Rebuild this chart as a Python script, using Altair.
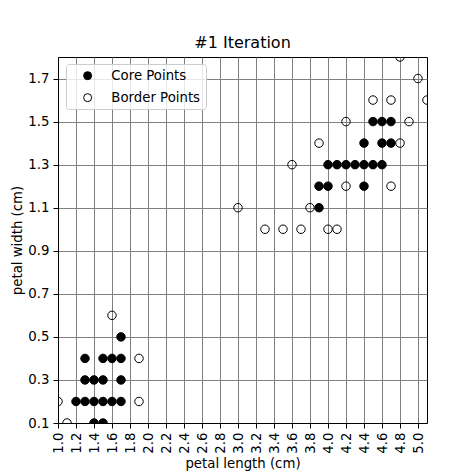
import altair as alt
import pandas as pd

core_x = [1.2, 1.3, 1.4, 1.5, 1.6, 1.7,
          1.3, 1.4, 1.5, 1.7,
          1.3, 1.5, 1.6, 1.7,
          1.7,
          1.4, 1.5,
          3.9,
          3.9, 4.0, 4.4,
          4.0, 4.1, 4.2, 4.3, 4.4, 4.5, 4.6,
          4.4, 4.6, 4.7,
          4.5, 4.6, 4.7]
core_y = [0.2, 0.2, 0.2, 0.2, 0.2, 0.2,
          0.3, 0.3, 0.3, 0.3,
          0.4, 0.4, 0.4, 0.4,
          0.5,
          0.1, 0.1,
          1.1,
          1.2, 1.2, 1.2,
          1.3, 1.3, 1.3, 1.3, 1.3, 1.3, 1.3,
          1.4, 1.4, 1.4,
          1.5, 1.5, 1.5]

border_x = [1.0, 1.9, 1.9, 1.6, 1.1,
            3.0, 3.8,
            3.3, 3.5, 3.7, 4.0, 4.1,
            4.2, 4.7,
            3.6,
            3.9, 4.8,
            4.2, 4.9,
            4.5, 4.7, 5.1,
            5.0,
            4.8]
border_y = [0.2, 0.2, 0.4, 0.6, 0.1,
            1.1, 1.1,
            1.0, 1.0, 1.0, 1.0, 1.0,
            1.2, 1.2,
            1.3,
            1.4, 1.4,
            1.5, 1.5,
            1.6, 1.6, 1.6,
            1.7,
            1.8]

x_ticks = [1.0, 1.2, 1.4, 1.6, 1.8, 2.0, 2.2, 2.4, 2.6, 2.8, 3.0,
           3.2, 3.4, 3.6, 3.8, 4.0, 4.2, 4.4, 4.6, 4.8, 5.0]
y_ticks = [0.1, 0.3, 0.5, 0.7, 0.9, 1.1, 1.3, 1.5, 1.7]
x_domain = [1.0, 5.1]
y_domain = [0.1, 1.8]
labels = ["Core Points", "Border Points"]

df = pd.concat([
    pd.DataFrame({"x": border_x, "y": border_y, "type": labels[1]}),
    pd.DataFrame({"x": core_x, "y": core_y, "type": labels[0]}),
], ignore_index=True)

FONT = "DejaVu Sans"

chart = alt.Chart(df).mark_point(
    shape="circle", size=72, filled=True, stroke="black", strokeWidth=1,
    opacity=1, clip=True
).encode(
    x=alt.X("x:Q", title="petal length (cm)",
            scale=alt.Scale(domain=x_domain, nice=False, zero=False),
            axis=alt.Axis(values=x_ticks, format=".1f", labelAngle=270)),
    y=alt.Y("y:Q", title="petal width (cm)",
            scale=alt.Scale(domain=y_domain, nice=False, zero=False),
            axis=alt.Axis(values=y_ticks, format=".1f")),
    fill=alt.Fill("type:N", scale=alt.Scale(domain=labels, range=["black", "transparent"]),
                  legend=alt.Legend(title=None, orient="none", legendX=8, legendY=7,
                                    symbolType="circle", symbolSize=64,
                                    symbolStrokeColor="black", symbolStrokeWidth=1,
                                    symbolOffset=10, labelOffset=17, rowPadding=8,
                                    padding=5, labelFontSize=13.3, labelFont=FONT,
                                    labelColor="black",
                                    fillColor="rgba(255,255,255,0.8)",
                                    strokeColor="#cccccc", cornerRadius=3)),
).properties(
    width=369, height=366,
    title=alt.TitleParams("#1 Iteration", fontSize=16, fontWeight="normal",
                          font=FONT, color="black", offset=6),
    autosize=alt.AutoSizeParams(type="none"),
    padding={"left": 50, "top": 49, "right": 39, "bottom": 51},
).configure_axis(
    domainColor="black", tickColor="black", tickSize=5, labelColor="black",
    labelFont=FONT, labelFontSize=13.3, titleFont=FONT, titleFontSize=13.3,
    titleFontWeight="normal", titleColor="black", grid=True, gridColor="#808080",
    gridWidth=1, labelPadding=4, titlePadding=3,
).configure_view(
    stroke="black", strokeWidth=1
)

chart.save("out.html", embed_options={"renderer": "svg", "actions": False})
